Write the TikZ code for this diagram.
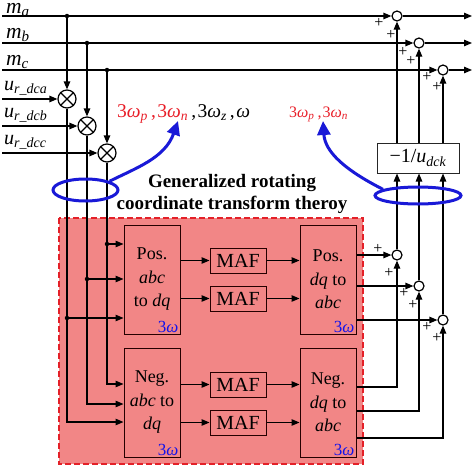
\documentclass[tikz,border=0pt]{standalone}
\usepackage{fontspec}
\setmainfont{Liberation Serif}
\usetikzlibrary{arrows.meta,shapes.geometric}
\definecolor{regfill}{RGB}{242,134,134}
\definecolor{regedge}{RGB}{228,32,40}
\definecolor{myblue}{RGB}{18,18,235}
\definecolor{myred}{RGB}{232,30,40}
\definecolor{wblue}{RGB}{25,25,215}
\tikzset{
  wire/.style={line width=1.2pt, black},
  sig/.style={wire, -{Triangle[length=8pt,width=6.5pt]}},
  dotn/.style={circle, fill=black, inner sep=0pt, minimum size=4.5pt},
  mult/.style={circle, draw, line width=1.2pt, minimum size=18pt, inner sep=0pt},
  sumn/.style={circle, draw, line width=1.2pt, fill=white, minimum size=10pt, inner sep=0pt},
  blk/.style={draw=black!85!red, line width=1pt, minimum width=56pt, minimum height=109pt, inner sep=0pt, align=center, font=\fontsize{18}{23.5}\selectfont},
  maf/.style={draw=black!85!red, line width=1pt, minimum width=56pt, minimum height=25pt, inner sep=0pt, font=\fontsize{20}{24}\selectfont},
  lbl/.style={inner sep=0pt, anchor=base west, font=\fontsize{20}{24}\selectfont},
  mlbl/.style={inner sep=0pt, anchor=base west, font=\fontsize{21.5}{24}\selectfont},
  pls/.style={inner sep=0pt, font=\fontsize{16}{18}\selectfont},
  wthree/.style={inner sep=2pt, anchor=south east, text=myblue, font=\fontsize{17}{20}\selectfont},
  bluearr/.style={line width=3pt, wblue, -{Triangle[length=14pt,width=13pt]}},
  ell/.style={line width=3pt, wblue},
}
\begin{document}
\begin{tikzpicture}[x=1pt,y=-1pt]
\useasboundingbox (0,0) rectangle (474,466);

% region
\fill[regfill] (59,218) rectangle (363,464);
\draw[regedge, line width=1.5pt, dash pattern=on 6pt off 3pt] (59,218) rectangle (363,464);

% title
\node[align=center, font=\bfseries\fontsize{19}{22}\selectfont, inner sep=0pt] (title) at (232,194) {Generalized rotating\\coordinate transform theroy};

% input labels
\node[mlbl] (lma) at (6,13) {\textit{m}\textsubscript{\textit{a}}};
\node[mlbl] (lmb) at (6,38.5) {\textit{m}\textsubscript{\textit{b}}};
\node[mlbl] (lmc) at (6,65.5) {\textit{m}\textsubscript{\textit{c}}};
\node[lbl] (lua) at (4,90) {\textit{u}\textsubscript{\textit{r\_dca}}};
\node[lbl] (lub) at (4,117) {\textit{u}\textsubscript{\textit{r\_dcb}}};
\node[lbl] (luc) at (4,144) {\textit{u}\textsubscript{\textit{r\_dcc}}};

% start / end points
\coordinate (ma0) at (2,16);
\coordinate (mb0) at (2,43);
\coordinate (mc0) at (2,70);
\coordinate (maE) at (472,16);
\coordinate (mbE) at (472,43);
\coordinate (mcE) at (472,70);
\coordinate (ua0) at (2,99);
\coordinate (ub0) at (2,126);
\coordinate (uc0) at (2,153);

% dots on m lines
\node[dotn] (da) at (67,16) {};
\node[dotn] (db) at (87,43) {};
\node[dotn] (dc) at (107,70) {};

% multipliers
\node[mult] (x1) at (67,99) {};
\node[mult] (x2) at (87,126) {};
\node[mult] (x3) at (107,153) {};
\foreach \n in {x1,x2,x3}{
  \draw[wire] (\n.45) -- (\n.225) (\n.135) -- (\n.315);
}

% top sums
\node[sumn] (sa) at (397,16) {};
\node[sumn] (sb) at (419,43) {};
\node[sumn] (sc) at (443,70) {};

% gain
\node[draw=black!85, line width=1pt, minimum width=82pt, minimum height=30pt, inner sep=0pt, font=\fontsize{20}{24}\selectfont] (gain) at (418,158) {−1/\textit{u}\textsubscript{\textit{dck}}};

% blocks
\node[blk] (pabc) at (152,279.5) {Pos.\\\textit{abc}\\to \textit{dq}};
\node[blk] (nabc) at (152,402.5) {Neg.\\\textit{abc} to\\\textit{dq}};
\node[blk] (pdq) at (328,279.5) {Pos.\\\textit{dq} to\\\textit{abc}};
\node[blk] (ndq) at (328,402.5) {Neg.\\\textit{dq} to\\\textit{abc}};
\node[wthree] (w1) at (pabc.south east) {3\textit{ω}};
\node[wthree] (w2) at (nabc.south east) {3\textit{ω}};
\node[wthree] (w3) at (pdq.south east) {3\textit{ω}};
\node[wthree] (w4) at (ndq.south east) {3\textit{ω}};

\node[maf] (mf1) at (238,260.5) {MAF};
\node[maf] (mf2) at (238,298.5) {MAF};
\node[maf] (mf3) at (238,384.5) {MAF};
\node[maf] (mf4) at (238,422.5) {MAF};

% lower sums
\node[sumn] (la) at (397,255) {};
\node[sumn] (lb) at (419,286) {};
\node[sumn] (lc) at (443,320) {};

% m lines
\draw[sig] (ma0) -- (sa);
\draw[sig] (mb0) -- (sb);
\draw[sig] (mc0) -- (sc);
\draw[sig] (sa) -- (maE);
\draw[sig] (sb) -- (mbE);
\draw[sig] (sc) -- (mcE);

% u lines
\draw[sig] (ua0) -- (x1);
\draw[sig] (ub0) -- (x2);
\draw[sig] (uc0) -- (x3);
\draw[sig] (da) -- (x1);
\draw[sig] (db) -- (x2);
\draw[sig] (dc) -- (x3);

% rows
\coordinate (rn1) at (0,384);
\coordinate (rn2) at (0,404);
\coordinate (rn3) at (0,422);

\draw[sig] (x1) |- (nabc.west |- rn3);
\draw[sig] (x2) |- (nabc.west |- rn2);
\draw[sig] (x3) |- (nabc.west |- rn1);

\node[dotn] (b1) at (107,244) {};
\node[dotn] (b2) at (87,279) {};
\node[dotn] (b3) at (67,318) {};
\draw[sig] (b1) -- (pabc.west |- b1);
\draw[sig] (b2) -- (pabc.west |- b2);
\draw[sig] (b3) -- (pabc.west |- b3);

% MAF links
\draw[sig] (pabc.east |- mf1) -- (mf1);
\draw[sig] (pabc.east |- mf2) -- (mf2);
\draw[sig] (nabc.east |- mf3) -- (mf3);
\draw[sig] (nabc.east |- mf4) -- (mf4);
\draw[sig] (mf1) -- (pdq.west |- mf1);
\draw[sig] (mf2) -- (pdq.west |- mf2);
\draw[sig] (mf3) -- (ndq.west |- mf3);
\draw[sig] (mf4) -- (ndq.west |- mf4);

% outputs
\draw[sig] (pdq.east |- la) -- (la);
\draw[sig] (pdq.east |- lb) -- (lb);
\draw[sig] (pdq.east |- lc) -- (lc);
\coordinate (ro1) at (0,387);
\coordinate (ro2) at (0,411);
\coordinate (ro3) at (0,438);
\draw[sig] (ndq.east |- ro1) -| (la);
\draw[sig] (ndq.east |- ro2) -| (lb);
\draw[sig] (ndq.east |- ro3) -| (lc);

\draw[sig] (la) -- (gain.south -| la);
\draw[sig] (lb) -- (gain.south -| lb);
\draw[sig] (lc) -- (gain.south -| lc);
\draw[sig] (gain.north -| sa) -- (sa);
\draw[sig] (gain.north -| sb) -- (sb);
\draw[sig] (gain.north -| sc) -- (sc);

% plus signs
\node[pls] (p1) at (379,23) {+};
\node[pls] (p2) at (391,35) {+};
\node[pls] (p3) at (403,52) {+};
\node[pls] (p4) at (411,61) {+};
\node[pls] (p5) at (427,77) {+};
\node[pls] (p6) at (437,87) {+};
\node[pls] (p7) at (378,249) {+};
\node[pls] (p8) at (389,273) {+};
\node[pls] (p9) at (404,293) {+};
\node[pls] (p10) at (413,305) {+};
\node[pls] (p11) at (427,327) {+};
\node[pls] (p12) at (437,338) {+};

% frequency labels
\node[anchor=base west, inner sep=0pt, font=\fontsize{19.5}{22}\selectfont] (fl) at (117,117) {\textcolor{myred}{3\textit{ω}\textsubscript{\textit{p}}\hspace{3pt},\hspace{1.5pt}3\textit{ω}\textsubscript{\textit{n}}}\hspace{3pt},\hspace{1.5pt}3\textit{ω}\textsubscript{\textit{z}}\hspace{3pt},\hspace{1.5pt}\textit{ω}};
\node[anchor=base west, inner sep=0pt, text=myred, font=\fontsize{16}{19}\selectfont] (fr) at (289,117) {3\textit{ω}\textsubscript{\textit{p}}\hspace{3pt},\hspace{1pt}3\textit{ω}\textsubscript{\textit{n}}};

% ellipses and blue arrows
\node[ell, draw, ellipse, minimum width=65pt, minimum height=22pt, inner sep=0pt] (el) at (85.5,190) {};
\node[ell, draw, ellipse, minimum width=86pt, minimum height=17pt, inner sep=0pt] (er) at (418,195.5) {};
\coordinate (tl) at (178,121);
\coordinate (tr) at (323,121);
\draw[bluearr] (el.20) .. controls (136,168) and (165,158) .. (tl);
\draw[bluearr] (er.170) .. controls (345,170) and (325,152) .. (tr);
\end{tikzpicture}
\end{document}
